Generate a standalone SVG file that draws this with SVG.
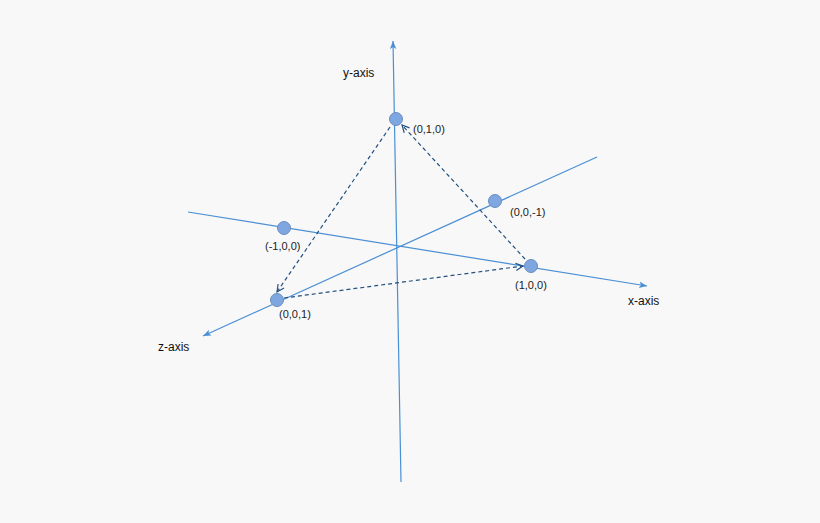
<svg xmlns="http://www.w3.org/2000/svg" width="820" height="523" viewBox="0 0 820 523">
<style>
.axis{stroke:#4a8fd4;stroke-width:1.2;fill:none}
.dash{stroke:#23507f;stroke-width:1.2;fill:none;stroke-dasharray:4 3}
.pt{fill:#7ea6e0;stroke:#6c8ebf;stroke-width:1}
.lbl{font-family:"Liberation Sans",Arial,sans-serif;font-size:11px;fill:#222}
.ax{font-family:"Liberation Sans",Arial,sans-serif;font-size:12px;fill:#111}
</style>
<defs>
<marker id="fa" viewBox="0 0 10 10" refX="10" refY="5" markerWidth="8" markerHeight="8" markerUnits="userSpaceOnUse" orient="auto">
<path d="M0,1 L10,5 L0,9 L2.5,5 Z" fill="#4a8fd4"/>
</marker>
<marker id="oa" viewBox="0 0 10 10" refX="9" refY="5" markerWidth="9" markerHeight="9" markerUnits="userSpaceOnUse" orient="auto">
<path d="M1,1 L9,5 L1,9" fill="none" stroke="#23507f" stroke-width="1.3"/>
</marker>
</defs>
<rect width="820" height="523" fill="#f8f8f8"/>
<g id="connectors">
<line class="axis" x1="401" y1="482" x2="393" y2="41" marker-end="url(#fa)"/>
<line class="axis" x1="188" y1="212" x2="647" y2="286" marker-end="url(#fa)"/>
<line class="axis" x1="597" y1="157" x2="203" y2="336" marker-end="url(#fa)"/>
<line class="dash" x1="390" y1="127" x2="277" y2="292" marker-end="url(#oa)"/>
<line class="dash" x1="525" y1="259" x2="402" y2="125" marker-end="url(#oa)"/>
<line class="dash" x1="284" y1="298" x2="523" y2="266" marker-end="url(#oa)"/>
</g>
<g id="n010"><circle class="pt" cx="396" cy="119" r="6.5"/><text class="lbl" x="413" y="133">(0,1,0)</text></g>
<g id="nm100"><circle class="pt" cx="284" cy="228" r="6.5"/><text class="lbl" x="265" y="250">(-1,0,0)</text></g>
<g id="n001"><circle class="pt" cx="277" cy="300" r="6.5"/><text class="lbl" x="279" y="318">(0,0,1)</text></g>
<g id="n00m1"><circle class="pt" cx="495" cy="201" r="6.5"/><text class="lbl" x="510" y="216">(0,0,-1)</text></g>
<g id="n100"><circle class="pt" cx="531" cy="266" r="6.5"/><text class="lbl" x="515" y="289">(1,0,0)</text></g>
<g id="labels">
<text class="ax" x="343" y="77">y-axis</text>
<text class="ax" x="628" y="305">x-axis</text>
<text class="ax" x="158" y="351">z-axis</text>
</g>
</svg>
